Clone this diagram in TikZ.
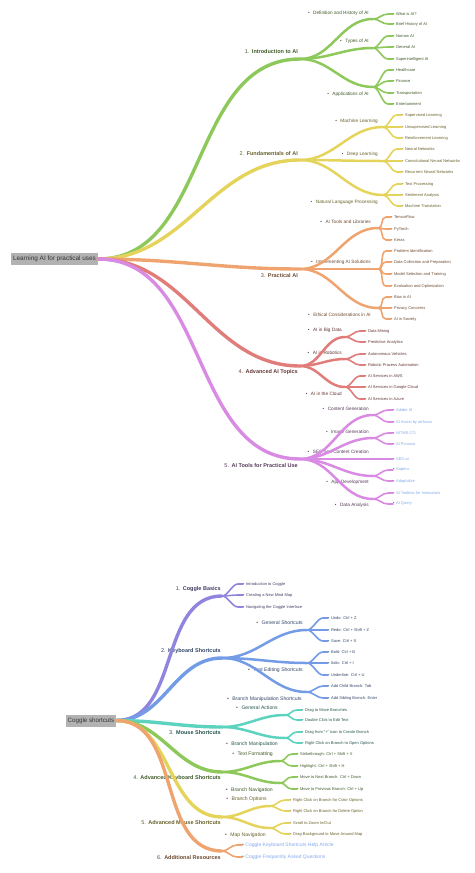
\documentclass[tikz,border=0pt]{standalone}
\usepackage{fontspec}
\setmainfont{Liberation Sans}
\usepackage{xcolor}
\usetikzlibrary{positioning}
\definecolor{cgreen}{HTML}{8DC85B}
\definecolor{cyellow}{HTML}{E5D45C}
\definecolor{corange}{HTML}{EFA46F}
\definecolor{cred}{HTML}{E07C79}
\definecolor{cpurple}{HTML}{D98BE3}
\definecolor{cviolet}{HTML}{9085DE}
\definecolor{cblue}{HTML}{739BE6}
\definecolor{cteal}{HTML}{5CD3BE}
\definecolor{clink}{HTML}{84A8EC}
\colorlet{tgreen}{cgreen!45!black}
\colorlet{tyellow}{cyellow!45!black}
\colorlet{torange}{corange!45!black}
\colorlet{tred}{cred!45!black}
\colorlet{tpurple}{cpurple!40!black}
\colorlet{tviolet}{cviolet!45!black}
\colorlet{tblue}{cblue!45!black}
\colorlet{tteal}{cteal!40!black}
\tikzset{
  hubroot/.style={
    rectangle, fill=gray!60, text=black!80,
    inner xsep=2pt, inner ysep=0pt, minimum height=12pt,
    font=\fontsize{6.4}{7}\selectfont
  },
  topic/.style={anchor=east, inner sep=0pt, font=\fontsize{5.5}{6}\selectfont},
  subtopic/.style={
    anchor=east, inner sep=0pt, font=\fontsize{4.7}{5}\selectfont,
    execute at begin node={\textcolor{black!70}{\textbullet}\hspace{3.5pt}}
  },
  leaf/.style={
    anchor=west, inner sep=0pt, font=\fontsize{4}{4.5}\selectfont,
    execute at begin node={\textcolor{black!75}{\textbullet}\hspace{1.5pt}}
  },
  limb/.style={line width=3.4pt, line cap=round},
  bough/.style={line width=2.5pt, line cap=round},
  twig/.style={line width=1.6pt, line cap=round},
  leafto/.style={to path={.. controls +(6,0) and +(-6,0) .. ([xshift=-5pt]\tikztotarget) -- (\tikztotarget)}}
}

\begin{document}
\begin{tikzpicture}[x=1pt, y=-1pt]
  \useasboundingbox (0,0) rectangle (474,873);

  % Learning AI map
  \node[hubroot] (ai) at (54.5,259) {Learning AI for practical uses};

  \coordinate (ai1) at (300,59);
  \coordinate (ai11) at (373,19);
  \coordinate (ai12) at (373,48);
  \coordinate (ai13) at (373,87);
  \coordinate (ai2) at (300,160);
  \coordinate (ai21) at (383,127);
  \coordinate (ai22) at (383,161);
  \coordinate (ai23) at (383,195);
  \coordinate (ai3) at (300,269);
  \coordinate (ai31) at (378,228);
  \coordinate (ai32) at (378,269);
  \coordinate (ai33) at (378,308);
  \coordinate (ai4) at (300,366);
  \coordinate (ai41) at (345,337);
  \coordinate (ai42) at (345,359);
  \coordinate (ai43) at (345,387);
  \coordinate (ai5) at (300,459);
  \coordinate (ai51) at (373,415);
  \coordinate (ai52) at (373,438);
  \coordinate (ai53) at (373,459);
  \coordinate (ai54) at (373,476);
  \coordinate (ai55) at (373,499);

  \node[topic, text=tgreen] (ai1t) at (298,52) {1.\hspace{2.5pt}\textbf{Introduction to AI}};
  \node[subtopic, text=tgreen] (ai11t) at (369,13) {Definition and History of AI};
  \node[leaf, text=tgreen] (ai111) at (393,14) {What is AI?};
  \node[leaf, text=tgreen] (ai112) at (393,24) {Brief History of AI};
  \node[subtopic, text=tgreen] (ai12t) at (369,41) {Types of AI};
  \node[leaf, text=tgreen] (ai121) at (393,36) {Narrow AI};
  \node[leaf, text=tgreen] (ai122) at (393,47) {General AI};
  \node[leaf, text=tgreen] (ai123) at (393,59) {Superintelligent AI};
  \node[subtopic, text=tgreen] (ai13t) at (369,94) {Applications of AI};
  \node[leaf, text=tgreen] (ai131) at (393,70) {Healthcare};
  \node[leaf, text=tgreen] (ai132) at (393,81) {Finance};
  \node[leaf, text=tgreen] (ai133) at (393,93) {Transportation};
  \node[leaf, text=tgreen] (ai134) at (393,104) {Entertainment};

  \node[topic, text=tyellow] (ai2t) at (298,154) {2.\hspace{2.5pt}\textbf{Fundamentals of AI}};
  \node[subtopic, text=tyellow] (ai21t) at (378,121) {Machine Learning};
  \node[leaf, text=tyellow] (ai211) at (402,115) {Supervised Learning};
  \node[leaf, text=tyellow] (ai212) at (402,127) {Unsupervised Learning};
  \node[leaf, text=tyellow] (ai213) at (402,138) {Reinforcement Learning};
  \node[subtopic, text=tyellow] (ai22t) at (378,154) {Deep Learning};
  \node[leaf, text=tyellow] (ai221) at (402,149) {Neural Networks};
  \node[leaf, text=tyellow] (ai222) at (402,161) {Convolutional Neural Networks};
  \node[leaf, text=tyellow] (ai223) at (402,172) {Recurrent Neural Networks};
  \node[subtopic, text=tyellow] (ai23t) at (378,202) {Natural Language Processing};
  \node[leaf, text=tyellow] (ai231) at (402,184) {Text Processing};
  \node[leaf, text=tyellow] (ai232) at (402,195) {Sentiment Analysis};
  \node[leaf, text=tyellow] (ai233) at (402,206) {Machine Translation};

  \node[topic, text=torange] (ai3t) at (298,276) {3.\hspace{2.5pt}\textbf{Practical AI}};
  \node[subtopic, text=torange] (ai31t) at (371,222) {AI Tools and Libraries};
  \node[leaf, text=torange] (ai311) at (391,217) {TensorFlow};
  \node[leaf, text=torange] (ai312) at (391,229) {PyTorch};
  \node[leaf, text=torange] (ai313) at (391,240) {Keras};
  \node[subtopic, text=torange] (ai32t) at (371,262) {Implementing AI Solutions};
  \node[leaf, text=torange] (ai321) at (391,251) {Problem Identification};
  \node[leaf, text=torange] (ai322) at (391,262) {Data Collection and Preparation};
  \node[leaf, text=torange] (ai323) at (391,274) {Model Selection and Training};
  \node[leaf, text=torange] (ai324) at (391,286) {Evaluation and Optimization};
  \node[subtopic, text=torange] (ai33t) at (371,315) {Ethical Considerations in AI};
  \node[leaf, text=torange] (ai331) at (391,297) {Bias in AI};
  \node[leaf, text=torange] (ai332) at (391,308) {Privacy Concerns};
  \node[leaf, text=torange] (ai333) at (391,319) {AI in Society};

  \node[topic, text=tred] (ai4t) at (298,372) {4.\hspace{2.5pt}\textbf{Advanced AI Topics}};
  \node[subtopic, text=tred] (ai41t) at (342,330) {AI in Big Data};
  \node[leaf, text=tred] (ai411) at (365,331) {Data Mining};
  \node[leaf, text=tred] (ai412) at (365,342) {Predictive Analytics};
  \node[subtopic, text=tred] (ai42t) at (342,353) {AI in Robotics};
  \node[leaf, text=tred] (ai421) at (365,354) {Autonomous Vehicles};
  \node[leaf, text=tred] (ai422) at (365,365) {Robotic Process Automation};
  \node[subtopic, text=tred] (ai43t) at (342,394) {AI in the Cloud};
  \node[leaf, text=tred] (ai431) at (365,376) {AI Services in AWS};
  \node[leaf, text=tred] (ai432) at (365,387) {AI Services in Google Cloud};
  \node[leaf, text=tred] (ai433) at (365,399) {AI Services in Azure};

  \node[topic, text=tpurple] (ai5t) at (298,466) {5.\hspace{2.5pt}\textbf{AI Tools for Practical Use}};
  \node[subtopic, text=tpurple] (ai51t) at (369,409) {Content Generation};
  \node[leaf, text=clink] (ai511) at (393,410) {Adobe AI};
  \node[leaf, text=clink] (ai512) at (393,422) {AI Assist by airfocus};
  \node[subtopic, text=tpurple] (ai52t) at (369,432) {Image Generation};
  \node[leaf, text=clink] (ai521) at (393,433) {NITMS.CO};
  \node[leaf, text=clink] (ai522) at (393,444) {AI Picasso};
  \node[subtopic, text=tpurple] (ai53t) at (369,452) {SEO and Content Creation};
  \node[leaf, text=clink] (ai531) at (393,459) {SEO.ai};
  \node[subtopic, text=tpurple] (ai54t) at (369,482) {App Development};
  \node[leaf, text=clink] (ai541) at (393,470) {Superu};
  \node[leaf, text=clink] (ai542) at (393,481) {Adaptalize};
  \node[subtopic, text=tpurple] (ai55t) at (369,505) {Data Analysis};
  \node[leaf, text=clink] (ai551) at (393,493) {AI Toolbox for Innovators};
  \node[leaf, text=clink] (ai552) at (393,504) {AI Query};

  \draw[limb, cgreen] (ai.east) to[out=0, in=180] (ai1);
  \draw[limb, cyellow] (ai.east) to[out=0, in=180] (ai2);
  \draw[limb, corange] (ai.east) to[out=0, in=180] (ai3);
  \draw[limb, cred] (ai.east) to[out=0, in=180] (ai4);
  \draw[limb, cpurple] (ai.east) to[out=0, in=180] (ai5);

  \draw[bough, cgreen] (ai1) to[out=0, in=180] (ai11);
  \draw[bough, cgreen] (ai1) to[out=0, in=180] (ai12);
  \draw[bough, cgreen] (ai1) to[out=0, in=180] (ai13);
  \draw[bough, cyellow] (ai2) to[out=0, in=180] (ai21);
  \draw[bough, cyellow] (ai2) to[out=0, in=180] (ai22);
  \draw[bough, cyellow] (ai2) to[out=0, in=180] (ai23);
  \draw[bough, corange] (ai3) to[out=0, in=180] (ai31);
  \draw[bough, corange] (ai3) to[out=0, in=180] (ai32);
  \draw[bough, corange] (ai3) to[out=0, in=180] (ai33);
  \draw[bough, cred] (ai4) to[out=0, in=180] (ai41);
  \draw[bough, cred] (ai4) to[out=0, in=180] (ai42);
  \draw[bough, cred] (ai4) to[out=0, in=180] (ai43);
  \draw[bough, cpurple] (ai5) to[out=0, in=180] (ai51);
  \draw[bough, cpurple] (ai5) to[out=0, in=180] (ai52);
  \draw[bough, cpurple] (ai5) to[out=0, in=180] (ai53);
  \draw[bough, cpurple] (ai5) to[out=0, in=180] (ai54);
  \draw[bough, cpurple] (ai5) to[out=0, in=180] (ai55);

  \draw[twig, cgreen] (ai11) edge[leafto] (ai111.west) edge[leafto] (ai112.west);
  \draw[twig, cgreen] (ai12) edge[leafto] (ai121.west) edge[leafto] (ai122.west) edge[leafto] (ai123.west);
  \draw[twig, cgreen] (ai13) edge[leafto] (ai131.west) edge[leafto] (ai132.west) edge[leafto] (ai133.west) edge[leafto] (ai134.west);
  \draw[twig, cyellow] (ai21) edge[leafto] (ai211.west) edge[leafto] (ai212.west) edge[leafto] (ai213.west);
  \draw[twig, cyellow] (ai22) edge[leafto] (ai221.west) edge[leafto] (ai222.west) edge[leafto] (ai223.west);
  \draw[twig, cyellow] (ai23) edge[leafto] (ai231.west) edge[leafto] (ai232.west) edge[leafto] (ai233.west);
  \draw[twig, corange] (ai31) edge[leafto] (ai311.west) edge[leafto] (ai312.west) edge[leafto] (ai313.west);
  \draw[twig, corange] (ai32) edge[leafto] (ai321.west) edge[leafto] (ai322.west) edge[leafto] (ai323.west) edge[leafto] (ai324.west);
  \draw[twig, corange] (ai33) edge[leafto] (ai331.west) edge[leafto] (ai332.west) edge[leafto] (ai333.west);
  \draw[twig, cred] (ai41) edge[leafto] (ai411.west) edge[leafto] (ai412.west);
  \draw[twig, cred] (ai42) edge[leafto] (ai421.west) edge[leafto] (ai422.west);
  \draw[twig, cred] (ai43) edge[leafto] (ai431.west) edge[leafto] (ai432.west) edge[leafto] (ai433.west);
  \draw[twig, cpurple] (ai51) edge[leafto] (ai511.west) edge[leafto] (ai512.west);
  \draw[twig, cpurple] (ai52) edge[leafto] (ai521.west) edge[leafto] (ai522.west);
  \draw[twig, cpurple] (ai53) edge[leafto] (ai531.west);
  \draw[twig, cpurple] (ai54) edge[leafto] (ai541.west) edge[leafto] (ai542.west);
  \draw[twig, cpurple] (ai55) edge[leafto] (ai551.west) edge[leafto] (ai552.west);

  % Coggle shortcuts map
  \node[hubroot, font=\fontsize{6.2}{7}\selectfont] (cg) at (91,720.5) {Coggle shortcuts};

  \coordinate (cg1) at (222,596);
  \coordinate (cg2) at (222,658);
  \coordinate (cg21) at (307,630);
  \coordinate (cg22) at (307,663);
  \coordinate (cg23) at (307,692);
  \coordinate (cg3) at (222,727);
  \coordinate (cg31) at (285,715);
  \coordinate (cg32) at (285,738);
  \coordinate (cg4) at (222,772);
  \coordinate (cg41) at (280,761);
  \coordinate (cg42) at (280,783);
  \coordinate (cg5) at (222,817);
  \coordinate (cg51) at (270,806);
  \coordinate (cg52) at (270,828);
  \coordinate (cg6) at (222,851);

  \node[topic, text=tviolet] (cg1t) at (221,589) {1.\hspace{2.5pt}\textbf{Coggle Basics}};
  \node[leaf, text=tviolet] (cg11) at (243,584) {Introduction to Coggle};
  \node[leaf, text=tviolet] (cg12) at (243,595) {Creating a New Mind Map};
  \node[leaf, text=tviolet] (cg13) at (243,607) {Navigating the Coggle Interface};

  \node[topic, text=tblue] (cg2t) at (221,651) {2.\hspace{2.5pt}\textbf{Keyboard Shortcuts}};
  \node[subtopic, text=tblue, font=\fontsize{5.1}{6}\selectfont] (cg21t) at (303,623) {General Shortcuts};
  \node[leaf, text=tblue] (cg211) at (328,618) {Undo: Ctrl + Z};
  \node[leaf, text=tblue] (cg212) at (328,630) {Redo: Ctrl + Shift + Z};
  \node[leaf, text=tblue] (cg213) at (328,641) {Save: Ctrl + S};
  \node[subtopic, text=tblue, font=\fontsize{5.1}{6}\selectfont] (cg22t) at (303,670) {Text Editing Shortcuts};
  \node[leaf, text=tblue] (cg221) at (328,652) {Bold: Ctrl + B};
  \node[leaf, text=tblue] (cg222) at (328,663) {Italic: Ctrl + I};
  \node[leaf, text=tblue] (cg223) at (328,675) {Underline: Ctrl + U};
  \node[subtopic, text=tblue, font=\fontsize{5.1}{6}\selectfont] (cg23t) at (302,699) {Branch Manipulation Shortcuts};
  \node[leaf, text=tblue] (cg231) at (328,686) {Add Child Branch: Tab};
  \node[leaf, text=tblue] (cg232) at (328,698) {Add Sibling Branch: Enter};

  \node[topic, text=tteal] (cg3t) at (221,733) {3.\hspace{2.5pt}\textbf{Mouse Shortcuts}};
  \node[subtopic, text=tteal, font=\fontsize{5.1}{6}\selectfont] (cg31t) at (278,708) {General Actions};
  \node[leaf, text=tteal] (cg311) at (302,710) {Drag to Move Branches};
  \node[leaf, text=tteal] (cg312) at (302,720) {Double Click to Edit Text};
  \node[subtopic, text=tteal, font=\fontsize{5.1}{6}\selectfont] (cg32t) at (278,744) {Branch Manipulation};
  \node[leaf, text=tteal] (cg321) at (302,732) {Drag from "+" Icon to Create Branch};
  \node[leaf, text=tteal] (cg322) at (302,743) {Right Click on Branch to Open Options};

  \node[topic, text=tgreen] (cg4t) at (221,778) {4.\hspace{2.5pt}\textbf{Advanced Keyboard Shortcuts}};
  \node[subtopic, text=tgreen, font=\fontsize{5.1}{6}\selectfont] (cg41t) at (273,754) {Text Formatting};
  \node[leaf, text=tgreen] (cg411) at (297,754) {Strikethrough: Ctrl + Shift + X};
  \node[leaf, text=tgreen] (cg412) at (297,766) {Highlight: Ctrl + Shift + H};
  \node[subtopic, text=tgreen, font=\fontsize{5.1}{6}\selectfont] (cg42t) at (273,790) {Branch Navigation};
  \node[leaf, text=tgreen] (cg421) at (297,777) {Move to Next Branch: Ctrl + Down};
  \node[leaf, text=tgreen] (cg422) at (297,789) {Move to Previous Branch: Ctrl + Up};

  \node[topic, text=tyellow] (cg5t) at (221,823) {5.\hspace{2.5pt}\textbf{Advanced Mouse Shortcuts}};
  \node[subtopic, text=tyellow, font=\fontsize{5.1}{6}\selectfont] (cg51t) at (267,799) {Branch Options};
  \node[leaf, text=tyellow] (cg511) at (290,800) {Right Click on Branch for Color Options};
  \node[leaf, text=tyellow] (cg512) at (290,811) {Right Click on Branch for Delete Option};
  \node[subtopic, text=tyellow, font=\fontsize{5.1}{6}\selectfont] (cg52t) at (266,835) {Map Navigation};
  \node[leaf, text=tyellow] (cg521) at (290,823) {Scroll to Zoom In/Out};
  \node[leaf, text=tyellow] (cg522) at (290,834) {Drag Background to Move Around Map};

  \node[topic, text=torange] (cg6t) at (221,858) {6.\hspace{2.5pt}\textbf{Additional Resources}};
  \node[leaf, text=clink, font=\fontsize{5}{6}\selectfont] (cg61) at (242,845) {Coggle Keyboard Shortcuts Help Article};
  \node[leaf, text=clink, font=\fontsize{5}{6}\selectfont] (cg62) at (242,857) {Coggle Frequently Asked Questions};

  \draw[limb, cviolet] (cg.east) to[out=0, in=180] (cg1);
  \draw[limb, cblue] (cg.east) to[out=0, in=180] (cg2);
  \draw[limb, cteal] (cg.east) to[out=0, in=180] (cg3);
  \draw[limb, cgreen] (cg.east) to[out=0, in=180] (cg4);
  \draw[limb, cyellow] (cg.east) to[out=0, in=180] (cg5);
  \draw[limb, corange] (cg.east) to[out=0, in=180] (cg6);

  \draw[bough, cblue] (cg2) to[out=0, in=180] (cg21);
  \draw[bough, cblue] (cg2) to[out=0, in=180] (cg22);
  \draw[bough, cblue] (cg2) to[out=0, in=180] (cg23);
  \draw[bough, cteal] (cg3) to[out=0, in=180] (cg31);
  \draw[bough, cteal] (cg3) to[out=0, in=180] (cg32);
  \draw[bough, cgreen] (cg4) to[out=0, in=180] (cg41);
  \draw[bough, cgreen] (cg4) to[out=0, in=180] (cg42);
  \draw[bough, cyellow] (cg5) to[out=0, in=180] (cg51);
  \draw[bough, cyellow] (cg5) to[out=0, in=180] (cg52);

  \draw[twig, cviolet] (cg1) edge[leafto] (cg11.west) edge[leafto] (cg12.west) edge[leafto] (cg13.west);
  \draw[twig, cblue] (cg21) edge[leafto] (cg211.west) edge[leafto] (cg212.west) edge[leafto] (cg213.west);
  \draw[twig, cblue] (cg22) edge[leafto] (cg221.west) edge[leafto] (cg222.west) edge[leafto] (cg223.west);
  \draw[twig, cblue] (cg23) edge[leafto] (cg231.west) edge[leafto] (cg232.west);
  \draw[twig, cteal] (cg31) edge[leafto] (cg311.west) edge[leafto] (cg312.west);
  \draw[twig, cteal] (cg32) edge[leafto] (cg321.west) edge[leafto] (cg322.west);
  \draw[twig, cgreen] (cg41) edge[leafto] (cg411.west) edge[leafto] (cg412.west);
  \draw[twig, cgreen] (cg42) edge[leafto] (cg421.west) edge[leafto] (cg422.west);
  \draw[twig, cyellow] (cg51) edge[leafto] (cg511.west) edge[leafto] (cg512.west);
  \draw[twig, cyellow] (cg52) edge[leafto] (cg521.west) edge[leafto] (cg522.west);
  \draw[twig, corange] (cg6) edge[leafto] (cg61.west) edge[leafto] (cg62.west);
\end{tikzpicture}
\end{document}
